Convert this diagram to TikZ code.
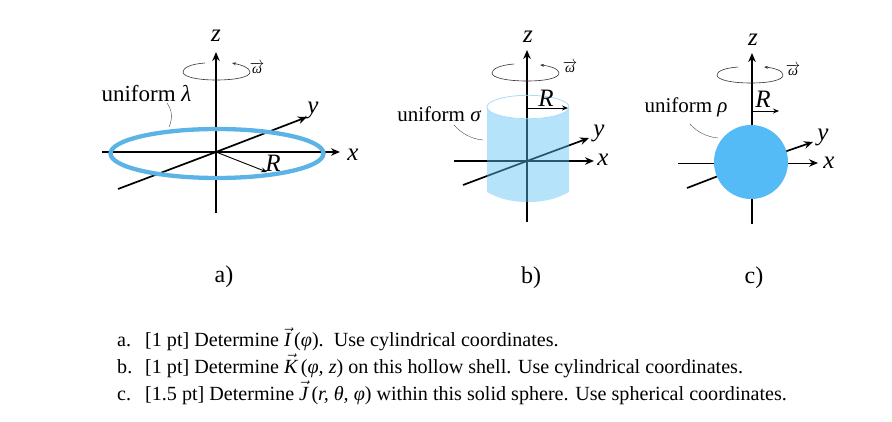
\documentclass[tikz,border=0pt]{standalone}
\usepackage{fontspec}
\setmainfont{Liberation Serif}
\usetikzlibrary{arrows.meta}
\definecolor{ringblue}{HTML}{5CB4E6}
\definecolor{ballblue}{HTML}{54BBF7}
\definecolor{shellblue}{HTML}{58C1F4}
\definecolor{rimblue}{HTML}{A8DDF8}
\newcommand{\omlabel}{$\overrightarrow{\mbox{\itshape ω}}$}
\tikzset{
  x=1pt,y=-1pt,
  axis/.style={line width=1.7pt,-{Stealth[length=9pt,width=7.5pt]}},
  axisplain/.style={line width=1.7pt},
  thinarrow/.style={line width=0.9pt,-{Stealth[length=6pt,width=5pt]}},
  spin/.style={line width=0.6pt,draw=black!80,-{Stealth[length=4pt,width=3pt]}},
  pointer/.style={line width=0.4pt,draw=black!70},
  lab/.style={font=\fontsize{25}{28}\selectfont\itshape,inner sep=0pt},
  txt/.style={font=\fontsize{21}{24}\selectfont,inner sep=0pt},
  captxt/.style={font=\fontsize{24}{27}\selectfont,inner sep=0pt},
  qline/.style={font=\fontsize{20.1}{24}\selectfont,inner sep=0pt,anchor=base west},
  omlab/.style={font=\fontsize{14}{16}\selectfont,inner sep=0pt},
}
\begin{document}
\begin{tikzpicture}
\useasboundingbox (0,0) rectangle (892,421);
% ---------- panel a
\coordinate (aO) at (216,152);
\coordinate (aZb) at (216,213); \coordinate (aZt) at (216,52);
\coordinate (aXl) at (102,152); \coordinate (aXr) at (340,152);
\coordinate (aYb) at (118,189); \coordinate (aYt) at (307,117);
\coordinate (aRe) at (267,172);
\draw[axisplain] (aXl) -- (aO);
\draw[axis] (aO) -- (aXr);
\draw[axisplain] (aYb) -- (aO);
\draw[axis] (aO) -- (aYt);
\draw[axisplain] (aZb) -- (aO);
\draw[axis] (aO) -- (aZt);
\draw[thinarrow] (aO) -- (aRe);
\draw[ringblue,line width=4.3pt] (217,153.5) ellipse [x radius=106.5,y radius=24.5];
\node[lab] (az) at (216,36) {z};
\node[lab] (ax) at (353,155) {x};
\node[lab] (ay) at (313,110) {y};
\node[lab] (aR) at (273,163) {R};
\coordinate (aS1) at (205,63); \coordinate (aS2) at (232,63);
\draw[spin] (aS1) .. controls (190,64) and (183,68) .. (183,72) .. controls (183,77) and (198,80) .. (216,80) .. controls (236,80) and (250,77) .. (250,72) .. controls (250,68) and (242,65) .. (aS2);
\node[omlab] (aw) at (257,68) {\omlabel};
\node[txt,font=\fontsize{23}{26}\selectfont] (au) at (146.5,94) {uniform {\itshape λ}};
\coordinate (aP1) at (167,103); \coordinate (aP2) at (169,127);
\draw[pointer] (aP1) .. controls (172,110) and (173,118) .. (aP2);
\node[captxt] (ca) at (224,277) {a)};
% ---------- panel b
\coordinate (bO) at (527,161);
\coordinate (bZb) at (527,222); \coordinate (bZt) at (527,50);
\coordinate (bXl) at (454,161); \coordinate (bXr) at (594,161);
\coordinate (bYb) at (463,185); \coordinate (bYt) at (589,138);
\coordinate (bRs) at (527,108); \coordinate (bRe) at (568,108);
\draw[axisplain] (bXl) -- (bO);
\draw[axis] (bO) -- (bXr);
\draw[axisplain] (bYb) -- (bO);
\draw[axis] (bO) -- (bYt);
\draw[axisplain] (bZb) -- (bO);
\draw[axis] (bO) -- (bZt);
\draw[thinarrow] (bRs) -- (bRe);
\fill[shellblue,fill opacity=0.45] (487,107) .. controls (487,114) and (505,119) .. (528,119) .. controls (551,119) and (569,114) .. (569,107) -- (569,192) .. controls (560,197) and (548,202) .. (528,202) .. controls (508,202) and (496,197) .. (487,192) -- cycle;
\draw[rimblue,line width=0.8pt] (528,107) ellipse [x radius=41,y radius=11.7];
\node[lab] (bz) at (528,37) {z};
\node[lab] (bx) at (603,160) {x};
\node[lab] (by) at (599,133) {y};
\node[lab] (bR) at (546,98) {R};
\coordinate (bS1) at (514,64); \coordinate (bS2) at (540,65);
\draw[spin] (bS1) .. controls (500,65) and (492,69) .. (492,73) .. controls (492,78) and (508,81) .. (527,81) .. controls (546,81) and (559,78) .. (559,73) .. controls (559,69) and (550,66) .. (bS2);
\node[omlab] (bw) at (570,67) {\omlabel};
\node[txt] (bu) at (439,114) {uniform {\itshape σ}};
\coordinate (bP1) at (454,125); \coordinate (bP2) at (483,140);
\draw[pointer] (bP1) .. controls (461,133) and (471,139) .. (bP2);
\node[captxt] (cb) at (531,278) {b)};
% ---------- panel c
\coordinate (cO) at (752,163);
\coordinate (cZb) at (752,224); \coordinate (cZt) at (752,53);
\coordinate (cXl) at (678,163); \coordinate (cXr) at (818,163);
\coordinate (cYb) at (687,188); \coordinate (cYt) at (813,142);
\coordinate (cRs) at (752,111); \coordinate (cRe) at (779,111);
\draw[axisplain,line width=1pt] (cXl) -- (cO);
\draw[axis,line width=1pt] (cO) -- (cXr);
\draw[axisplain] (cYb) -- (cO);
\draw[axis] (cO) -- (cYt);
\draw[axisplain] (cZb) -- (cO);
\draw[axis] (cO) -- (cZt);
\draw[thinarrow] (cRs) -- (cRe);
\fill[ballblue] (751,162) circle [radius=37];
\node[lab] (cz) at (753,40) {z};
\node[lab] (cx) at (829,163) {x};
\node[lab] (cy) at (823,137) {y};
\node[lab] (cR) at (763,99) {R};
\coordinate (cS1) at (738,67); \coordinate (cS2) at (764,67);
\draw[spin] (cS1) .. controls (725,68) and (717,71) .. (717,75) .. controls (717,80) and (732,83) .. (751,83) .. controls (770,83) and (783,80) .. (783,75) .. controls (783,71) and (775,68) .. (cS2);
\node[omlab] (cw) at (793,70) {\omlabel};
\node[txt] (cu) at (686,107) {uniform {\itshape ρ}};
\coordinate (cP1) at (690,124); \coordinate (cP2) at (718,138);
\draw[pointer] (cP1) .. controls (697,132) and (707,137) .. (cP2);
\node[captxt] (cc) at (754,278) {c)};
% ---------- question lines
\node[qline] (q1) at (117,346.5) {a.};
\node[qline] (q1t) at (145,346.5) {[1 pt] Determine $\vec{\mbox{\itshape I}}$\,({\itshape φ}).\ \ Use cylindrical coordinates.};
\node[qline] (q2) at (117,373) {b.};
\node[qline] (q2t) at (145,373) {[1 pt] Determine $\vec{\mbox{\itshape K}}$\,({\itshape φ, z}) on this hollow shell. Use cylindrical coordinates.};
\node[qline] (q3) at (117,400) {c.};
\node[qline] (q3t) at (145,400) {[1.5 pt] Determine $\vec{\mbox{\itshape J}}$\,({\itshape r, θ, φ}) within this solid sphere. Use spherical coordinates.};
\end{tikzpicture}
\end{document}
